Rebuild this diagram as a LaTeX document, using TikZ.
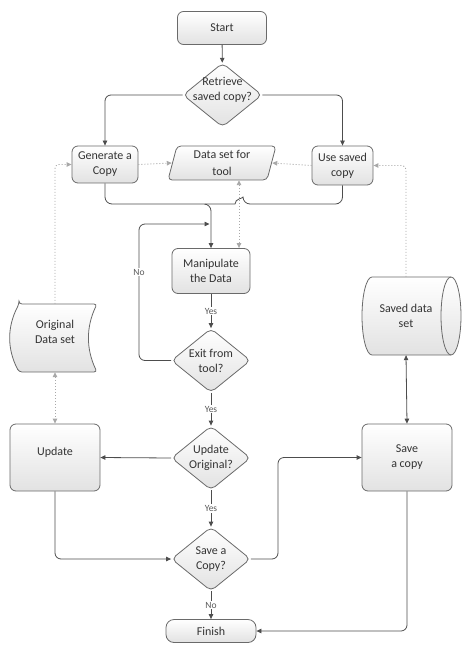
\documentclass[tikz,border=0pt]{standalone}
\usepackage{fontspec}
\setmainfont{Carlito}
\usetikzlibrary{shapes.geometric,arrows.meta}
\definecolor{bordc}{HTML}{6A6A6A}
\definecolor{linec}{HTML}{4D4D4D}
\definecolor{dotc}{HTML}{A8A8A8}
\definecolor{txtc}{HTML}{333333}
\definecolor{lblc}{HTML}{5A5A5A}
\definecolor{fillb}{HTML}{E2E2E2}
\begin{document}
\begin{tikzpicture}[x=1pt,y=-1pt,
  >={Triangle[length=5pt,width=4.5pt]},
  shadefill/.style={top color=white,bottom color=fillb,draw=bordc,line width=0.8pt},
  procbox/.style={shadefill,rounded corners=6pt,inner sep=0pt,align=center,text=txtc,font=\fontsize{12}{15}\selectfont},
  ghost/.style={inner sep=0pt,align=center,text=txtc,font=\fontsize{12}{15}\selectfont},
  dia/.style={shadefill,shape=diamond,rounded corners=5pt,inner sep=0pt,minimum width=79pt,minimum height=64pt},
  dtext/.style={align=center,text=txtc,font=\fontsize{12}{15}\selectfont,inner sep=0pt},
  flow/.style={draw=linec,line width=0.8pt,->},
  dflow/.style={draw=dotc,line width=0.9pt,dash pattern=on 1pt off 2pt,->},
  lab/.style={fill=white,inner sep=1pt,text=lblc,font=\fontsize{9.5}{11}\selectfont}]
\useasboundingbox (0,0) rectangle (474,660);

% ---- shapes drawn directly ----
\path[shadefill,rounded corners=4pt] (177,146) -- (276,146) -- (267,180) -- (168,180) -- cycle;
\path[shadefill,rounded corners=3pt] (19,304) -- (97,304) .. controls (86,327) and (86,349) .. (97,372) -- (19,372) .. controls (7,349) and (7,327) .. (19,304) -- cycle;
\path[shadefill] (451,277) -- (372,277) arc[start angle=90,end angle=270,x radius=10pt,y radius=39pt] -- (451,355) arc[start angle=-90,end angle=90,x radius=10pt,y radius=39pt] -- cycle;
\draw[draw=bordc,line width=0.8pt] (451,277) arc[start angle=90,end angle=270,x radius=10pt,y radius=39pt];

% ---- nodes ----
\node[procbox,minimum width=89pt,minimum height=33pt] (start) at (222,28) {Start};
\node[dia] (ret) at (222.5,95) {};
\node[dtext] (rett) at (222.5,90) {Retrieve\\saved copy?};
\node[procbox,minimum width=66pt,minimum height=37pt] (gen) at (105,164.5) {Generate a\\Copy};
\node[ghost,minimum width=100pt,minimum height=34pt] (data) at (222,163) {Data set for\\[2pt]tool};
\node[procbox,minimum width=61pt,minimum height=39pt] (use) at (342.5,165.5) {Use saved\\copy};
\node[procbox,minimum width=78pt,minimum height=45pt] (manip) at (211,271) {Manipulate\\the Data};
\node[dia] (exit) at (211,360.5) {};
\node[dtext] (exitt) at (211,360.5) {Exit from\\tool?};
\node[dia] (updo) at (211,458) {};
\node[dtext] (updot) at (211,458) {Update\\Original?};
\node[dia] (savq) at (211,559) {};
\node[dtext] (savqt) at (211,559) {Save a\\Copy?};
\node[procbox,minimum width=90pt,minimum height=67pt] (upd) at (55,457.5) {};
\node[dtext] (updt) at (55,452) {Update};
\node[procbox,minimum width=90pt,minimum height=67pt] (save) at (407,457.5) {Save\\a copy};
\node[procbox,rounded corners=8pt,minimum width=90pt,minimum height=23pt] (fin) at (211,631) {Finish};
\node[ghost,minimum width=86pt,minimum height=68pt] (orig) at (55,338) {};
\node[dtext] (origt) at (55,332) {Original\\Data set};
\node[ghost,minimum width=88pt,minimum height=78pt] (saved) at (406,316) {Saved data\\set};

\coordinate (j) at (211,204);
\coordinate (hopR) at (243,204);
\coordinate (hopL) at (235,204);
\coordinate (nl) at (139,224);
\coordinate (bx) at (278,500);

% ---- connectors ----
\draw[flow] (start) -- (ret);
\draw[flow,rounded corners=6pt] (ret.west) -| (gen.north);
\draw[flow,rounded corners=6pt] (ret.east) -| (use.north);
\draw[dflow] (gen.east) -- (data.west);
\draw[dflow] (use.west) -- (data.east);
\draw[dflow,rounded corners=4pt] (orig.north) |- (gen.west);
\draw[dflow,rounded corners=4pt] (saved.north) |- (use.east);
\draw[dflow,<->] ([xshift=17pt]data.south) -- ([xshift=28pt]manip.north);
\draw[flow,rounded corners=7pt] (gen.south) |- (j) -- (manip.north);
\draw[draw=linec,line width=0.8pt,rounded corners=7pt] (use.south) |- (hopR) [sharp corners] .. controls ([yshift=5.5pt]hopR) and ([yshift=5.5pt]hopL) .. (hopL) -- ([xshift=-6pt]j);
\draw[flow,rounded corners=6pt,shorten >=1.5pt] (exit.west) -| (nl) -- (nl -| manip.north);
\node[lab] (no1) at (139,272) {No};
\draw[flow] (manip.south) -- node[lab] (y1) {Yes} (exit.north);
\draw[flow] (exit.south) -- node[lab] (y2) {Yes} (updo.north);
\draw[flow] (updo.south) -- node[lab] (y3) {Yes} (savq.north);
\draw[flow] (savq.south) -- node[lab] (no2) {No} (fin.north);
\draw[flow] (updo.west) -- (upd.east);
\draw[flow,rounded corners=6pt] (upd.south) |- (savq.west);
\draw[flow,rounded corners=6pt] (savq.east) -| (bx |- save.west) -- (save.west);
\draw[flow,rounded corners=6pt] (save.south) |- (fin.east);
\draw[flow,<->] (saved.south) -- (save.north);
\draw[dflow,<->] (orig.south) -- (upd.north);
\end{tikzpicture}
\end{document}
